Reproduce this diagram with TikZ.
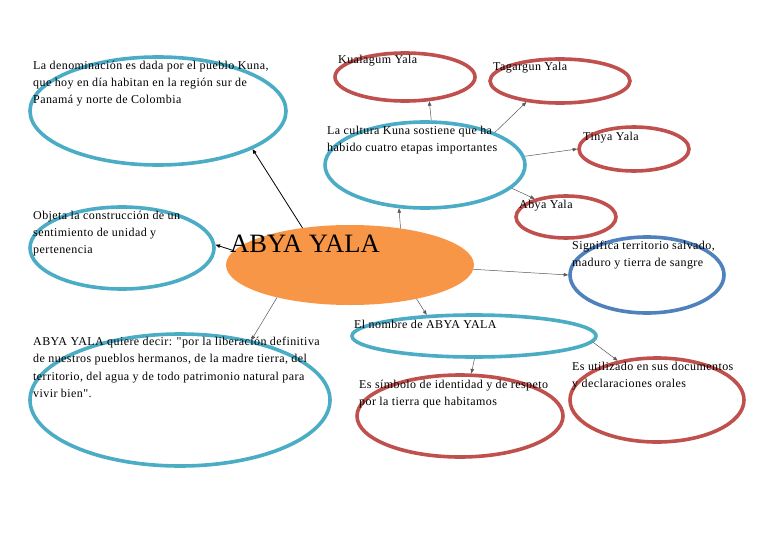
\documentclass[tikz,border=0pt]{standalone}
\usepackage{fontspec}
\setmainfont{Liberation Serif}
\newfontfamily\spacedserif[LetterSpace=3.5]{Liberation Serif}
\usetikzlibrary{shapes.geometric,arrows.meta}
\definecolor{cteal}{HTML}{4BACC6}
\definecolor{cred}{HTML}{C0504D}
\definecolor{cblue}{HTML}{4F81BD}
\definecolor{corange}{HTML}{F79646}
\tikzset{
  ell/.style={ellipse, line width=3.6pt, inner sep=0pt},
  tealell/.style={ell, draw=cteal},
  redell/.style={ell, draw=cred},
  blueell/.style={ell, draw=cblue},
  txt/.style={anchor=north west, inner sep=0pt, align=left, font=\spacedserif\fontsize{12}{17.2}\selectfont},
  conn/.style={draw=black!65, line width=0.5pt, -{Triangle[length=4.5pt,width=3.5pt]}},
  connk/.style={draw=black, line width=0.8pt, -{Triangle[length=4.5pt,width=3.5pt]}}
}
\begin{document}
\begin{tikzpicture}[x=1pt,y=-1pt]
\useasboundingbox[fill=white] (0,0) rectangle (768,543);
% ellipses
\node[tealell, minimum width=256pt, minimum height=108pt] (tl) at (158,111) {};
\node[tealell, minimum width=184pt, minimum height=82pt] (obj) at (122,248) {};
\node[tealell, minimum width=300pt, minimum height=132pt] (bl) at (180,400) {};
\node[ellipse, fill=corange, minimum width=248pt, minimum height=80pt, inner sep=0pt] (main) at (350,265) {};
\node[tealell, minimum width=200pt, minimum height=86pt] (cult) at (425,165) {};
\node[redell, minimum width=140pt, minimum height=48pt] (kua) at (405,77) {};
\node[redell, minimum width=140pt, minimum height=44pt] (tag) at (560,81) {};
\node[redell, minimum width=110pt, minimum height=44pt] (tin) at (634,149) {};
\node[redell, minimum width=100pt, minimum height=42pt] (aby) at (566,217) {};
\node[blueell, minimum width=154pt, minimum height=76pt] (sig) at (647,275) {};
\node[tealell, minimum width=244pt, minimum height=42pt] (nom) at (474,336) {};
\node[redell, minimum width=206pt, minimum height=82pt] (sim) at (460,416) {};
\node[redell, minimum width=174pt, minimum height=84pt] (uti) at (657,400) {};
% texts
\node[txt] (t1) at (33,61) {La denominación es dada por el pueblo Kuna,\\que hoy en día habitan en la región sur de\\Panamá y norte de Colombia};
\node[txt] (t2) at (33,211) {Objeta la construcción de un\\sentimiento de unidad y\\pertenencia};
\node[txt] (t3) at (33,337) {ABYA YALA quiere decir: "por la liberación definitiva\\de nuestros pueblos hermanos, de la madre tierra, del\\territorio, del agua y de todo patrimonio natural para\\vivir bien".};
\node[anchor=base west, inner sep=0pt, font=\fontsize{26.5}{26.5}\selectfont] (t4) at (230,252) {ABYA YALA};
\node[txt] (t5) at (327,126) {La cultura Kuna sostiene que ha\\habido cuatro etapas importantes};
\node[txt] (t6) at (338,55) {Kualagum Yala};
\node[txt] (t7) at (493,62) {Tagargun Yala};
\node[txt] (t8) at (583,132) {Tinya Yala};
\node[txt] (t9) at (519,200) {Abya Yala};
\node[txt] (t10) at (572,241) {Significa territorio salvado,\\maduro y tierra de sangre};
\node[txt] (t11) at (354,320) {El nombre de ABYA YALA};
\node[txt] (t12) at (359,380) {Es símbolo de identidad y de respeto\\por la tierra que habitamos};
\node[txt] (t13) at (572,362) {Es utilizado en sus documentos\\y declaraciones orales};
% connectors
\draw[connk] (main.142) -- (tl.-22);
\draw[connk] (main.173) -- (obj.2);
\draw[conn] (main.36) -- (cult.-121);
\draw[conn] (main.-156) -- (bl.40);
\draw[conn] (main.-2) -- (sig.180);
\draw[conn] (main.-27) -- (nom.156);
\draw[conn] (cult.82) -- (kua.-45);
\draw[conn] (cult.25) -- (tag.-148);
\draw[conn] (cult.5) -- (tin.180);
\draw[conn] (cult.-15) -- (aby.150);
\draw[conn] (nom.-89) -- (sim.75);
\draw[conn] (nom.-3) -- (uti.135);
\end{tikzpicture}
\end{document}
